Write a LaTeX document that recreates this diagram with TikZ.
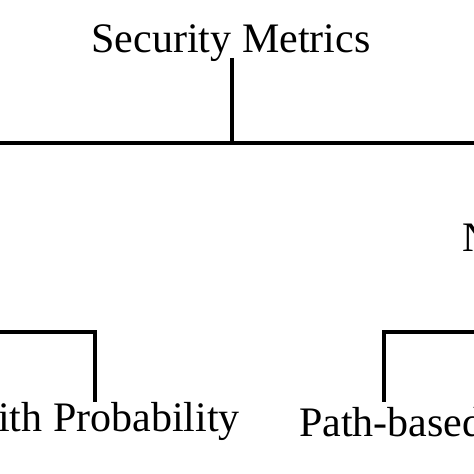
\documentclass[tikz,border=0pt]{standalone}
\usepackage{fontspec}
\setmainfont{Liberation Serif}
\begin{document}
\begin{tikzpicture}[x=1pt, y=1pt, lbl/.style={inner sep=0pt, font=\fontsize{42}{50}\selectfont}, edge/.style={line width=3.2pt}]
\useasboundingbox (0,0) rectangle (474,474);
\clip (0,0) rectangle (474,474);
\node[lbl, anchor=base] (root) at (231,421) {Security Metrics};
\node[lbl, anchor=base west] (nonpath) at (462,222) {N};
\node[lbl, anchor=base east] (withprob) at (240,42) {with Probability};
\node[lbl, anchor=base west] (pathbased) at (299,37) {Path-based};
\coordinate (rootfoot) at (232,416);
\coordinate (hub) at (232,331);
\coordinate (lbar) at (-10,331);
\coordinate (rbar) at (484,331);
\coordinate (lsplit) at (-10,142);
\coordinate (rsplit) at (484,142);
\coordinate (wtop) at (95,72);
\coordinate (ptop) at (384,72);
\draw[edge] (rootfoot) -- (hub);
\draw[edge] (lbar) -- (rbar);
\draw[edge] (lsplit) -| (wtop);
\draw[edge] (rsplit) -| (ptop);
\end{tikzpicture}
\end{document}
